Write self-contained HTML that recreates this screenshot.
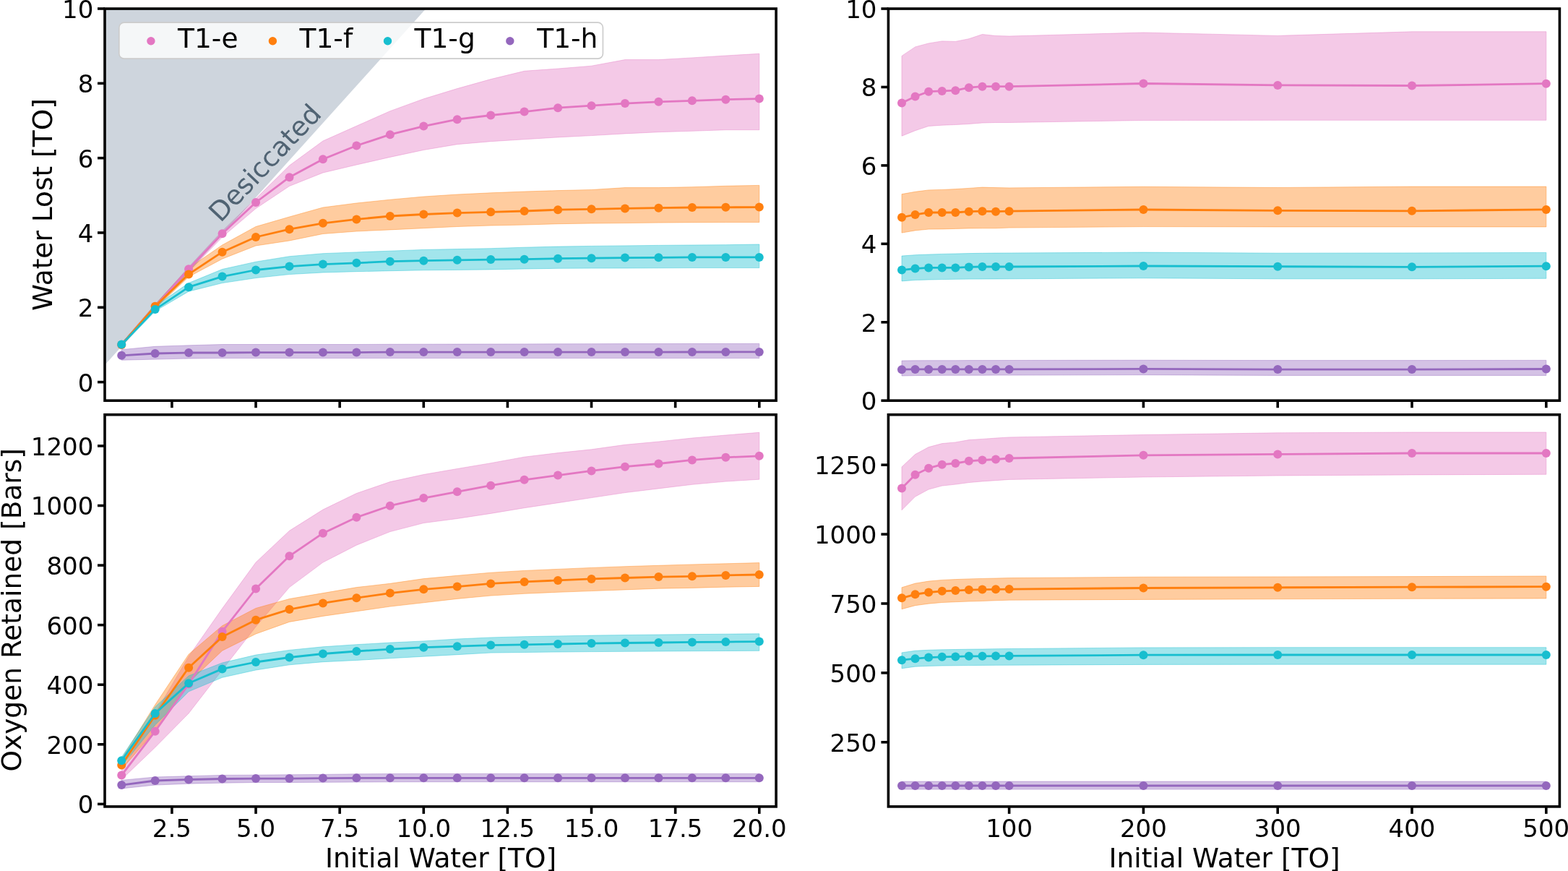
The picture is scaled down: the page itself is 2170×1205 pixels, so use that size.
<!DOCTYPE html>
<html><head><meta charset="utf-8"><title>Figure</title>
<style>html,body{margin:0;padding:0;background:#fff;overflow:hidden;} svg{display:block;}</style>
</head><body>
<svg width="2170" height="1205" viewBox="0 0 2170 1205" font-family="'DejaVu Sans', 'Liberation Sans', sans-serif">
<rect width="2170" height="1205" fill="#ffffff"/>
<defs>
<clipPath id="clipA"><rect x="145" y="12.05" width="929.1" height="542.15"/></clipPath>
<clipPath id="clipB"><rect x="1229.4" y="12.05" width="929" height="542.15"/></clipPath>
<clipPath id="clipC"><rect x="145" y="573.7" width="929.1" height="542.2"/></clipPath>
<clipPath id="clipD"><rect x="1229.4" y="573.7" width="929" height="542.2"/></clipPath>
</defs>
<g clip-path="url(#clipA)">
<path d="M168.22,475 L214.68,421.5 L261.12,369.5 L307.58,319.5 L354.02,274.8 L400.48,229 L446.93,195 L493.38,174.3 L539.83,153.7 L586.28,136.8 L632.73,122.6 L679.18,109.6 L725.62,98.3 L772.08,95 L818.53,91.2 L864.98,82.6 L911.43,82.6 L957.88,79.9 L1004.33,77 L1050.78,74.3 L1050.78,179.7 L1004.33,179.7 L957.88,181.3 L911.43,182.7 L864.98,184.9 L818.53,187.6 L772.08,189.9 L725.62,192.8 L679.18,195.7 L632.73,199.7 L586.28,207.5 L539.83,217.4 L493.38,228 L446.93,239 L400.48,257.5 L354.02,288.5 L307.58,328 L261.12,376 L214.68,427 L168.22,479 Z" fill="#e377c2" fill-opacity="0.4" stroke="#e377c2" stroke-opacity="0.4" stroke-width="1.0" stroke-linejoin="round"/>
<path d="M168.22,475 L214.68,421 L261.12,371 L307.58,339 L354.02,313.5 L400.48,300 L446.93,287 L493.38,281 L539.83,276.2 L586.28,272 L632.73,269 L679.18,266.8 L725.62,265 L772.08,263.6 L818.53,262.5 L864.98,259.6 L911.43,259.6 L957.88,258.7 L1004.33,257.3 L1050.78,256.4 L1050.78,307.5 L1004.33,307.5 L957.88,307.7 L911.43,308.1 L864.98,308.6 L818.53,309 L772.08,309.7 L725.62,311.1 L679.18,312 L632.73,313.5 L586.28,315.7 L539.83,317.9 L493.38,320 L446.93,323.5 L400.48,333 L354.02,340 L307.58,358.2 L261.12,383 L214.68,427 L168.22,479 Z" fill="#ff7f0e" fill-opacity="0.4" stroke="#ff7f0e" stroke-opacity="0.4" stroke-width="1.0" stroke-linejoin="round"/>
<path d="M168.22,474.5 L214.68,423.5 L261.12,391.6 L307.58,372.5 L354.02,362.2 L400.48,354.7 L446.93,350.7 L493.38,348.9 L539.83,347.2 L586.28,345.4 L632.73,344.6 L679.18,343.7 L725.62,342.2 L772.08,341.1 L818.53,340.4 L864.98,339.9 L911.43,339.4 L957.88,339 L1004.33,338.7 L1050.78,338 L1050.78,370.6 L1004.33,370.6 L957.88,370.6 L911.43,370.8 L864.98,371 L818.53,371.1 L772.08,371.3 L725.62,372 L679.18,372.9 L632.73,373.4 L586.28,373.8 L539.83,374.7 L493.38,375.7 L446.93,377 L400.48,379.6 L354.02,384.6 L307.58,391.6 L261.12,403.2 L214.68,430.5 L168.22,479 Z" fill="#17becf" fill-opacity="0.4" stroke="#17becf" stroke-opacity="0.4" stroke-width="1.0" stroke-linejoin="round"/>
<path d="M168.22,483.7 L214.68,479.3 L261.12,477.8 L307.58,476.5 L354.02,476.5 L400.48,476.5 L446.93,476.5 L493.38,476.5 L539.83,476.3 L586.28,476.2 L632.73,476.1 L679.18,476 L725.62,475.9 L772.08,475.8 L818.53,475.7 L864.98,475.6 L911.43,475.6 L957.88,475.5 L1004.33,475.5 L1050.78,475.4 L1050.78,495.6 L1004.33,495.6 L957.88,495.6 L911.43,495.6 L864.98,495.6 L818.53,495.6 L772.08,495.6 L725.62,495.6 L679.18,495.6 L632.73,495.6 L586.28,495.6 L539.83,495.6 L493.38,495.6 L446.93,495.6 L400.48,495.6 L354.02,495.6 L307.58,495.6 L261.12,496 L214.68,497.1 L168.22,498.2 Z" fill="#9467bd" fill-opacity="0.4" stroke="#9467bd" stroke-opacity="0.4" stroke-width="1.0" stroke-linejoin="round"/>
<path d="M145,505.09 L589.46,12.05 L145,12.05 Z" fill="#73879e" fill-opacity="0.35"/>
<path d="M168.22,476.9 L214.68,424 L261.12,372.3 L307.58,323.3 L354.02,280 L400.48,245.2 L446.93,220.3 L493.38,201.5 L539.83,186.2 L586.28,174.6 L632.73,165.2 L679.18,159.5 L725.62,154.6 L772.08,149.2 L818.53,146.2 L864.98,143.1 L911.43,140.8 L957.88,139.3 L1004.33,137.7 L1050.78,136.6" fill="none" stroke="#e377c2" stroke-width="2.8" stroke-linejoin="round" stroke-linecap="butt"/><circle cx="168.22" cy="476.9" r="6.0" fill="#e377c2"/><circle cx="214.68" cy="424" r="6.0" fill="#e377c2"/><circle cx="261.12" cy="372.3" r="6.0" fill="#e377c2"/><circle cx="307.58" cy="323.3" r="6.0" fill="#e377c2"/><circle cx="354.02" cy="280" r="6.0" fill="#e377c2"/><circle cx="400.48" cy="245.2" r="6.0" fill="#e377c2"/><circle cx="446.93" cy="220.3" r="6.0" fill="#e377c2"/><circle cx="493.38" cy="201.5" r="6.0" fill="#e377c2"/><circle cx="539.83" cy="186.2" r="6.0" fill="#e377c2"/><circle cx="586.28" cy="174.6" r="6.0" fill="#e377c2"/><circle cx="632.73" cy="165.2" r="6.0" fill="#e377c2"/><circle cx="679.18" cy="159.5" r="6.0" fill="#e377c2"/><circle cx="725.62" cy="154.6" r="6.0" fill="#e377c2"/><circle cx="772.08" cy="149.2" r="6.0" fill="#e377c2"/><circle cx="818.53" cy="146.2" r="6.0" fill="#e377c2"/><circle cx="864.98" cy="143.1" r="6.0" fill="#e377c2"/><circle cx="911.43" cy="140.8" r="6.0" fill="#e377c2"/><circle cx="957.88" cy="139.3" r="6.0" fill="#e377c2"/><circle cx="1004.33" cy="137.7" r="6.0" fill="#e377c2"/><circle cx="1050.78" cy="136.6" r="6.0" fill="#e377c2"/>
<path d="M168.22,476.9 L214.68,423.8 L261.12,379.4 L307.58,348.7 L354.02,328 L400.48,317.2 L446.93,308.8 L493.38,303.4 L539.83,299 L586.28,296.5 L632.73,294.6 L679.18,293.3 L725.62,292 L772.08,290.2 L818.53,289.3 L864.98,288.4 L911.43,287.7 L957.88,287 L1004.33,286.8 L1050.78,286.6" fill="none" stroke="#ff7f0e" stroke-width="2.8" stroke-linejoin="round" stroke-linecap="butt"/><circle cx="168.22" cy="476.9" r="6.0" fill="#ff7f0e"/><circle cx="214.68" cy="423.8" r="6.0" fill="#ff7f0e"/><circle cx="261.12" cy="379.4" r="6.0" fill="#ff7f0e"/><circle cx="307.58" cy="348.7" r="6.0" fill="#ff7f0e"/><circle cx="354.02" cy="328" r="6.0" fill="#ff7f0e"/><circle cx="400.48" cy="317.2" r="6.0" fill="#ff7f0e"/><circle cx="446.93" cy="308.8" r="6.0" fill="#ff7f0e"/><circle cx="493.38" cy="303.4" r="6.0" fill="#ff7f0e"/><circle cx="539.83" cy="299" r="6.0" fill="#ff7f0e"/><circle cx="586.28" cy="296.5" r="6.0" fill="#ff7f0e"/><circle cx="632.73" cy="294.6" r="6.0" fill="#ff7f0e"/><circle cx="679.18" cy="293.3" r="6.0" fill="#ff7f0e"/><circle cx="725.62" cy="292" r="6.0" fill="#ff7f0e"/><circle cx="772.08" cy="290.2" r="6.0" fill="#ff7f0e"/><circle cx="818.53" cy="289.3" r="6.0" fill="#ff7f0e"/><circle cx="864.98" cy="288.4" r="6.0" fill="#ff7f0e"/><circle cx="911.43" cy="287.7" r="6.0" fill="#ff7f0e"/><circle cx="957.88" cy="287" r="6.0" fill="#ff7f0e"/><circle cx="1004.33" cy="286.8" r="6.0" fill="#ff7f0e"/><circle cx="1050.78" cy="286.6" r="6.0" fill="#ff7f0e"/>
<path d="M168.22,476.6 L214.68,428.1 L261.12,397.2 L307.58,382.6 L354.02,373.5 L400.48,368.6 L446.93,365.6 L493.38,363.8 L539.83,361.7 L586.28,360.7 L632.73,359.8 L679.18,359.1 L725.62,358.7 L772.08,357.7 L818.53,357.2 L864.98,356.6 L911.43,356.3 L957.88,355.9 L1004.33,355.9 L1050.78,355.9" fill="none" stroke="#17becf" stroke-width="2.8" stroke-linejoin="round" stroke-linecap="butt"/><circle cx="168.22" cy="476.6" r="6.0" fill="#17becf"/><circle cx="214.68" cy="428.1" r="6.0" fill="#17becf"/><circle cx="261.12" cy="397.2" r="6.0" fill="#17becf"/><circle cx="307.58" cy="382.6" r="6.0" fill="#17becf"/><circle cx="354.02" cy="373.5" r="6.0" fill="#17becf"/><circle cx="400.48" cy="368.6" r="6.0" fill="#17becf"/><circle cx="446.93" cy="365.6" r="6.0" fill="#17becf"/><circle cx="493.38" cy="363.8" r="6.0" fill="#17becf"/><circle cx="539.83" cy="361.7" r="6.0" fill="#17becf"/><circle cx="586.28" cy="360.7" r="6.0" fill="#17becf"/><circle cx="632.73" cy="359.8" r="6.0" fill="#17becf"/><circle cx="679.18" cy="359.1" r="6.0" fill="#17becf"/><circle cx="725.62" cy="358.7" r="6.0" fill="#17becf"/><circle cx="772.08" cy="357.7" r="6.0" fill="#17becf"/><circle cx="818.53" cy="357.2" r="6.0" fill="#17becf"/><circle cx="864.98" cy="356.6" r="6.0" fill="#17becf"/><circle cx="911.43" cy="356.3" r="6.0" fill="#17becf"/><circle cx="957.88" cy="355.9" r="6.0" fill="#17becf"/><circle cx="1004.33" cy="355.9" r="6.0" fill="#17becf"/><circle cx="1050.78" cy="355.9" r="6.0" fill="#17becf"/>
<path d="M168.22,491.8 L214.68,489 L261.12,488 L307.58,488 L354.02,487.6 L400.48,487.6 L446.93,487.6 L493.38,487.6 L539.83,487.1 L586.28,487.1 L632.73,487.1 L679.18,487.1 L725.62,487.1 L772.08,487.1 L818.53,487.1 L864.98,487.1 L911.43,487.1 L957.88,487 L1004.33,487 L1050.78,486.9" fill="none" stroke="#9467bd" stroke-width="2.8" stroke-linejoin="round" stroke-linecap="butt"/><circle cx="168.22" cy="491.8" r="6.0" fill="#9467bd"/><circle cx="214.68" cy="489" r="6.0" fill="#9467bd"/><circle cx="261.12" cy="488" r="6.0" fill="#9467bd"/><circle cx="307.58" cy="488" r="6.0" fill="#9467bd"/><circle cx="354.02" cy="487.6" r="6.0" fill="#9467bd"/><circle cx="400.48" cy="487.6" r="6.0" fill="#9467bd"/><circle cx="446.93" cy="487.6" r="6.0" fill="#9467bd"/><circle cx="493.38" cy="487.6" r="6.0" fill="#9467bd"/><circle cx="539.83" cy="487.1" r="6.0" fill="#9467bd"/><circle cx="586.28" cy="487.1" r="6.0" fill="#9467bd"/><circle cx="632.73" cy="487.1" r="6.0" fill="#9467bd"/><circle cx="679.18" cy="487.1" r="6.0" fill="#9467bd"/><circle cx="725.62" cy="487.1" r="6.0" fill="#9467bd"/><circle cx="772.08" cy="487.1" r="6.0" fill="#9467bd"/><circle cx="818.53" cy="487.1" r="6.0" fill="#9467bd"/><circle cx="864.98" cy="487.1" r="6.0" fill="#9467bd"/><circle cx="911.43" cy="487.1" r="6.0" fill="#9467bd"/><circle cx="957.88" cy="487" r="6.0" fill="#9467bd"/><circle cx="1004.33" cy="487" r="6.0" fill="#9467bd"/><circle cx="1050.78" cy="486.9" r="6.0" fill="#9467bd"/>
</g>
<g clip-path="url(#clipC)">
<path d="M168.22,1067 L214.68,987 L261.12,908.2 L307.58,841.8 L354.02,778.1 L400.48,734.3 L446.93,705.1 L493.38,682.5 L539.83,666.6 L586.28,656.5 L632.73,648.5 L679.18,640.7 L725.62,632.2 L772.08,626.6 L818.53,621.8 L864.98,615.3 L911.43,611 L957.88,606 L1004.33,602 L1050.78,598.3 L1050.78,663.2 L1004.33,666.1 L957.88,670.3 L911.43,675.9 L864.98,681.6 L818.53,688.6 L772.08,695.7 L725.62,702.7 L679.18,710.4 L632.73,717.5 L586.28,723.6 L539.83,735.6 L493.38,754.2 L446.93,778.1 L400.48,812.6 L354.02,867 L307.58,926.8 L261.12,986.9 L214.68,1034 L168.22,1078.5 Z" fill="#e377c2" fill-opacity="0.4" stroke="#e377c2" stroke-opacity="0.4" stroke-width="1.0" stroke-linejoin="round"/>
<path d="M168.22,1050 L214.68,975 L261.12,905.2 L307.58,865.7 L354.02,841.5 L400.48,828.5 L446.93,820.6 L493.38,812.6 L539.83,807.3 L586.28,800.6 L632.73,796.3 L679.18,792.2 L725.62,789.4 L772.08,787.4 L818.53,785.4 L864.98,783.7 L911.43,782.3 L957.88,780.9 L1004.33,779.8 L1050.78,778.6 L1050.78,811.4 L1004.33,812.2 L957.88,813.4 L911.43,814.2 L864.98,815.9 L818.53,817.6 L772.08,819.3 L725.62,821.3 L679.18,824.1 L632.73,828.4 L586.28,833.8 L539.83,839.1 L493.38,845.8 L446.93,852.4 L400.48,860.4 L354.02,877 L307.58,900.2 L261.12,944.2 L214.68,1011 L168.22,1064.5 Z" fill="#ff7f0e" fill-opacity="0.4" stroke="#ff7f0e" stroke-opacity="0.4" stroke-width="1.0" stroke-linejoin="round"/>
<path d="M168.22,1047.5 L214.68,978 L261.12,935 L307.58,917 L354.02,906.1 L400.48,899.4 L446.93,894.8 L493.38,891.7 L539.83,889.1 L586.28,886.9 L632.73,884 L679.18,881.9 L725.62,880.7 L772.08,879.9 L818.53,879.1 L864.98,878.5 L911.43,878 L957.88,877.6 L1004.33,877.2 L1050.78,876.8 L1050.78,900.3 L1004.33,900.5 L957.88,900.7 L911.43,901 L864.98,901.3 L818.53,901.6 L772.08,902 L725.62,902.5 L679.18,903.1 L632.73,905.7 L586.28,908.2 L539.83,910.8 L493.38,913.5 L446.93,915.7 L400.48,919.8 L354.02,927 L307.58,937.3 L261.12,956.8 L214.68,1003 L168.22,1060 Z" fill="#17becf" fill-opacity="0.4" stroke="#17becf" stroke-opacity="0.4" stroke-width="1.0" stroke-linejoin="round"/>
<path d="M168.22,1079.4 L214.68,1075 L261.12,1073.7 L307.58,1072.4 L354.02,1072.2 L400.48,1071.8 L446.93,1071.4 L493.38,1070.8 L539.83,1070.6 L586.28,1070.4 L632.73,1070.4 L679.18,1070.4 L725.62,1070.4 L772.08,1070.4 L818.53,1070.4 L864.98,1070.4 L911.43,1070.4 L957.88,1070.4 L1004.33,1070.4 L1050.78,1070.4 L1050.78,1081.7 L1004.33,1081.7 L957.88,1081.7 L911.43,1081.7 L864.98,1081.7 L818.53,1081.7 L772.08,1081.7 L725.62,1081.7 L679.18,1081.7 L632.73,1081.7 L586.28,1081.7 L539.83,1081.8 L493.38,1082 L446.93,1082.3 L400.48,1082.5 L354.02,1082.5 L307.58,1083.2 L261.12,1084.2 L214.68,1086.1 L168.22,1090.9 Z" fill="#9467bd" fill-opacity="0.4" stroke="#9467bd" stroke-opacity="0.4" stroke-width="1.0" stroke-linejoin="round"/>
<path d="M168.22,1072.6 L214.68,1011.7 L261.12,946.4 L307.58,873.7 L354.02,814.5 L400.48,769.3 L446.93,737.7 L493.38,715.7 L539.83,699.7 L586.28,689.1 L632.73,680.3 L679.18,671.7 L725.62,663.8 L772.08,657.6 L818.53,651.4 L864.98,645.7 L911.43,641.5 L957.88,636.4 L1004.33,632.8 L1050.78,630.8" fill="none" stroke="#e377c2" stroke-width="2.8" stroke-linejoin="round" stroke-linecap="butt"/><circle cx="168.22" cy="1072.6" r="6.0" fill="#e377c2"/><circle cx="214.68" cy="1011.7" r="6.0" fill="#e377c2"/><circle cx="261.12" cy="946.4" r="6.0" fill="#e377c2"/><circle cx="307.58" cy="873.7" r="6.0" fill="#e377c2"/><circle cx="354.02" cy="814.5" r="6.0" fill="#e377c2"/><circle cx="400.48" cy="769.3" r="6.0" fill="#e377c2"/><circle cx="446.93" cy="737.7" r="6.0" fill="#e377c2"/><circle cx="493.38" cy="715.7" r="6.0" fill="#e377c2"/><circle cx="539.83" cy="699.7" r="6.0" fill="#e377c2"/><circle cx="586.28" cy="689.1" r="6.0" fill="#e377c2"/><circle cx="632.73" cy="680.3" r="6.0" fill="#e377c2"/><circle cx="679.18" cy="671.7" r="6.0" fill="#e377c2"/><circle cx="725.62" cy="663.8" r="6.0" fill="#e377c2"/><circle cx="772.08" cy="657.6" r="6.0" fill="#e377c2"/><circle cx="818.53" cy="651.4" r="6.0" fill="#e377c2"/><circle cx="864.98" cy="645.7" r="6.0" fill="#e377c2"/><circle cx="911.43" cy="641.5" r="6.0" fill="#e377c2"/><circle cx="957.88" cy="636.4" r="6.0" fill="#e377c2"/><circle cx="1004.33" cy="632.8" r="6.0" fill="#e377c2"/><circle cx="1050.78" cy="630.8" r="6.0" fill="#e377c2"/>
<path d="M168.22,1058.4 L214.68,989.7 L261.12,923.7 L307.58,881.1 L354.02,857.7 L400.48,843.1 L446.93,834.4 L493.38,827.2 L539.83,820.6 L586.28,815.3 L632.73,811.6 L679.18,807.4 L725.62,804.9 L772.08,802.9 L818.53,800.9 L864.98,799.5 L911.43,798.1 L957.88,797.3 L1004.33,795.9 L1050.78,795" fill="none" stroke="#ff7f0e" stroke-width="2.8" stroke-linejoin="round" stroke-linecap="butt"/><circle cx="168.22" cy="1058.4" r="6.0" fill="#ff7f0e"/><circle cx="214.68" cy="989.7" r="6.0" fill="#ff7f0e"/><circle cx="261.12" cy="923.7" r="6.0" fill="#ff7f0e"/><circle cx="307.58" cy="881.1" r="6.0" fill="#ff7f0e"/><circle cx="354.02" cy="857.7" r="6.0" fill="#ff7f0e"/><circle cx="400.48" cy="843.1" r="6.0" fill="#ff7f0e"/><circle cx="446.93" cy="834.4" r="6.0" fill="#ff7f0e"/><circle cx="493.38" cy="827.2" r="6.0" fill="#ff7f0e"/><circle cx="539.83" cy="820.6" r="6.0" fill="#ff7f0e"/><circle cx="586.28" cy="815.3" r="6.0" fill="#ff7f0e"/><circle cx="632.73" cy="811.6" r="6.0" fill="#ff7f0e"/><circle cx="679.18" cy="807.4" r="6.0" fill="#ff7f0e"/><circle cx="725.62" cy="804.9" r="6.0" fill="#ff7f0e"/><circle cx="772.08" cy="802.9" r="6.0" fill="#ff7f0e"/><circle cx="818.53" cy="800.9" r="6.0" fill="#ff7f0e"/><circle cx="864.98" cy="799.5" r="6.0" fill="#ff7f0e"/><circle cx="911.43" cy="798.1" r="6.0" fill="#ff7f0e"/><circle cx="957.88" cy="797.3" r="6.0" fill="#ff7f0e"/><circle cx="1004.33" cy="795.9" r="6.0" fill="#ff7f0e"/><circle cx="1050.78" cy="795" r="6.0" fill="#ff7f0e"/>
<path d="M168.22,1052.3 L214.68,986.9 L261.12,945.2 L307.58,925.4 L354.02,916 L400.48,909.5 L446.93,904.5 L493.38,901 L539.83,898.1 L586.28,895.7 L632.73,894.2 L679.18,892.6 L725.62,891.8 L772.08,891 L818.53,890.1 L864.98,889.5 L911.43,889 L957.88,888.4 L1004.33,888.1 L1050.78,887.6" fill="none" stroke="#17becf" stroke-width="2.8" stroke-linejoin="round" stroke-linecap="butt"/><circle cx="168.22" cy="1052.3" r="6.0" fill="#17becf"/><circle cx="214.68" cy="986.9" r="6.0" fill="#17becf"/><circle cx="261.12" cy="945.2" r="6.0" fill="#17becf"/><circle cx="307.58" cy="925.4" r="6.0" fill="#17becf"/><circle cx="354.02" cy="916" r="6.0" fill="#17becf"/><circle cx="400.48" cy="909.5" r="6.0" fill="#17becf"/><circle cx="446.93" cy="904.5" r="6.0" fill="#17becf"/><circle cx="493.38" cy="901" r="6.0" fill="#17becf"/><circle cx="539.83" cy="898.1" r="6.0" fill="#17becf"/><circle cx="586.28" cy="895.7" r="6.0" fill="#17becf"/><circle cx="632.73" cy="894.2" r="6.0" fill="#17becf"/><circle cx="679.18" cy="892.6" r="6.0" fill="#17becf"/><circle cx="725.62" cy="891.8" r="6.0" fill="#17becf"/><circle cx="772.08" cy="891" r="6.0" fill="#17becf"/><circle cx="818.53" cy="890.1" r="6.0" fill="#17becf"/><circle cx="864.98" cy="889.5" r="6.0" fill="#17becf"/><circle cx="911.43" cy="889" r="6.0" fill="#17becf"/><circle cx="957.88" cy="888.4" r="6.0" fill="#17becf"/><circle cx="1004.33" cy="888.1" r="6.0" fill="#17becf"/><circle cx="1050.78" cy="887.6" r="6.0" fill="#17becf"/>
<path d="M168.22,1086.1 L214.68,1080 L261.12,1078.5 L307.58,1077.5 L354.02,1077.1 L400.48,1077.1 L446.93,1076.6 L493.38,1076.3 L539.83,1076.3 L586.28,1076.3 L632.73,1076.3 L679.18,1076.3 L725.62,1076.3 L772.08,1076.3 L818.53,1076.3 L864.98,1076.3 L911.43,1076.3 L957.88,1076.3 L1004.33,1076.3 L1050.78,1076.3" fill="none" stroke="#9467bd" stroke-width="2.8" stroke-linejoin="round" stroke-linecap="butt"/><circle cx="168.22" cy="1086.1" r="6.0" fill="#9467bd"/><circle cx="214.68" cy="1080" r="6.0" fill="#9467bd"/><circle cx="261.12" cy="1078.5" r="6.0" fill="#9467bd"/><circle cx="307.58" cy="1077.5" r="6.0" fill="#9467bd"/><circle cx="354.02" cy="1077.1" r="6.0" fill="#9467bd"/><circle cx="400.48" cy="1077.1" r="6.0" fill="#9467bd"/><circle cx="446.93" cy="1076.6" r="6.0" fill="#9467bd"/><circle cx="493.38" cy="1076.3" r="6.0" fill="#9467bd"/><circle cx="539.83" cy="1076.3" r="6.0" fill="#9467bd"/><circle cx="586.28" cy="1076.3" r="6.0" fill="#9467bd"/><circle cx="632.73" cy="1076.3" r="6.0" fill="#9467bd"/><circle cx="679.18" cy="1076.3" r="6.0" fill="#9467bd"/><circle cx="725.62" cy="1076.3" r="6.0" fill="#9467bd"/><circle cx="772.08" cy="1076.3" r="6.0" fill="#9467bd"/><circle cx="818.53" cy="1076.3" r="6.0" fill="#9467bd"/><circle cx="864.98" cy="1076.3" r="6.0" fill="#9467bd"/><circle cx="911.43" cy="1076.3" r="6.0" fill="#9467bd"/><circle cx="957.88" cy="1076.3" r="6.0" fill="#9467bd"/><circle cx="1004.33" cy="1076.3" r="6.0" fill="#9467bd"/><circle cx="1050.78" cy="1076.3" r="6.0" fill="#9467bd"/>
</g>
<g clip-path="url(#clipB)">
<path d="M1247.98,77.4 L1266.56,64.9 L1285.14,59.9 L1303.72,56.9 L1322.3,57.4 L1340.88,53.7 L1359.46,47.5 L1378.04,49.5 L1396.62,50 L1582.42,45 L1768.22,49.4 L1954.02,43.8 L2139.82,43.8 L2139.82,166.3 L1954.02,166.3 L1768.22,166.3 L1582.42,166.5 L1396.62,169.5 L1378.04,169.5 L1359.46,170 L1340.88,171.5 L1322.3,172.5 L1303.72,173.2 L1285.14,174.5 L1266.56,180.7 L1247.98,188.2 Z" fill="#e377c2" fill-opacity="0.4" stroke="#e377c2" stroke-opacity="0.4" stroke-width="1.0" stroke-linejoin="round"/>
<path d="M1247.98,268.6 L1266.56,265.3 L1285.14,262.9 L1303.72,262.4 L1322.3,261.6 L1340.88,260.4 L1359.46,259.1 L1378.04,259.6 L1396.62,259.9 L1582.42,258.3 L1768.22,259.5 L1954.02,258.1 L2139.82,258.1 L2139.82,313.9 L1954.02,313.9 L1768.22,313.9 L1582.42,313.6 L1396.62,315.1 L1378.04,315.8 L1359.46,315.8 L1340.88,315.9 L1322.3,316.4 L1303.72,316.9 L1285.14,317.1 L1266.56,318.9 L1247.98,322.1 Z" fill="#ff7f0e" fill-opacity="0.4" stroke="#ff7f0e" stroke-opacity="0.4" stroke-width="1.0" stroke-linejoin="round"/>
<path d="M1247.98,354.1 L1266.56,352.7 L1285.14,352 L1303.72,351.4 L1322.3,351 L1340.88,350.6 L1359.46,350.3 L1378.04,350.1 L1396.62,350 L1582.42,349.1 L1768.22,350.2 L1954.02,349.9 L2139.82,349.4 L2139.82,385.3 L1954.02,385.8 L1768.22,385.8 L1582.42,384.8 L1396.62,385.8 L1378.04,385.9 L1359.46,386 L1340.88,386.1 L1322.3,386.3 L1303.72,386.6 L1285.14,387 L1266.56,387.5 L1247.98,388.9 Z" fill="#17becf" fill-opacity="0.4" stroke="#17becf" stroke-opacity="0.4" stroke-width="1.0" stroke-linejoin="round"/>
<path d="M1247.98,499 L1266.56,498.8 L1285.14,498.7 L1303.72,498.7 L1322.3,498.7 L1340.88,498.6 L1359.46,498.6 L1378.04,498.6 L1396.62,498.5 L1582.42,498.3 L1768.22,498.6 L1954.02,498.6 L2139.82,498.4 L2139.82,519.4 L1954.02,519.4 L1768.22,519.4 L1582.42,518.7 L1396.62,519.1 L1378.04,519.1 L1359.46,519.2 L1340.88,519.2 L1322.3,519.3 L1303.72,519.3 L1285.14,519.4 L1266.56,519.6 L1247.98,520 Z" fill="#9467bd" fill-opacity="0.4" stroke="#9467bd" stroke-opacity="0.4" stroke-width="1.0" stroke-linejoin="round"/>
<path d="M1247.98,142.6 L1266.56,133.6 L1285.14,126.7 L1303.72,125.9 L1322.3,125.2 L1340.88,121.2 L1359.46,119.7 L1378.04,119.7 L1396.62,119.7 L1582.42,115.5 L1768.22,117.9 L1954.02,118.5 L2139.82,115.7" fill="none" stroke="#e377c2" stroke-width="2.8" stroke-linejoin="round" stroke-linecap="butt"/><circle cx="1247.98" cy="142.6" r="6.0" fill="#e377c2"/><circle cx="1266.56" cy="133.6" r="6.0" fill="#e377c2"/><circle cx="1285.14" cy="126.7" r="6.0" fill="#e377c2"/><circle cx="1303.72" cy="125.9" r="6.0" fill="#e377c2"/><circle cx="1322.3" cy="125.2" r="6.0" fill="#e377c2"/><circle cx="1340.88" cy="121.2" r="6.0" fill="#e377c2"/><circle cx="1359.46" cy="119.7" r="6.0" fill="#e377c2"/><circle cx="1378.04" cy="119.7" r="6.0" fill="#e377c2"/><circle cx="1396.62" cy="119.7" r="6.0" fill="#e377c2"/><circle cx="1582.42" cy="115.5" r="6.0" fill="#e377c2"/><circle cx="1768.22" cy="117.9" r="6.0" fill="#e377c2"/><circle cx="1954.02" cy="118.5" r="6.0" fill="#e377c2"/><circle cx="2139.82" cy="115.7" r="6.0" fill="#e377c2"/>
<path d="M1247.98,300.7 L1266.56,297 L1285.14,294 L1303.72,294 L1322.3,294 L1340.88,292.7 L1359.46,292.2 L1378.04,292.7 L1396.62,292.2 L1582.42,290 L1768.22,291.3 L1954.02,291.8 L2139.82,289.9" fill="none" stroke="#ff7f0e" stroke-width="2.8" stroke-linejoin="round" stroke-linecap="butt"/><circle cx="1247.98" cy="300.7" r="6.0" fill="#ff7f0e"/><circle cx="1266.56" cy="297" r="6.0" fill="#ff7f0e"/><circle cx="1285.14" cy="294" r="6.0" fill="#ff7f0e"/><circle cx="1303.72" cy="294" r="6.0" fill="#ff7f0e"/><circle cx="1322.3" cy="294" r="6.0" fill="#ff7f0e"/><circle cx="1340.88" cy="292.7" r="6.0" fill="#ff7f0e"/><circle cx="1359.46" cy="292.2" r="6.0" fill="#ff7f0e"/><circle cx="1378.04" cy="292.7" r="6.0" fill="#ff7f0e"/><circle cx="1396.62" cy="292.2" r="6.0" fill="#ff7f0e"/><circle cx="1582.42" cy="290" r="6.0" fill="#ff7f0e"/><circle cx="1768.22" cy="291.3" r="6.0" fill="#ff7f0e"/><circle cx="1954.02" cy="291.8" r="6.0" fill="#ff7f0e"/><circle cx="2139.82" cy="289.9" r="6.0" fill="#ff7f0e"/>
<path d="M1247.98,373.6 L1266.56,371.5 L1285.14,370.4 L1303.72,370.4 L1322.3,370.4 L1340.88,369.4 L1359.46,369 L1378.04,369 L1396.62,369 L1582.42,368 L1768.22,368.7 L1954.02,369.3 L2139.82,368.2" fill="none" stroke="#17becf" stroke-width="2.8" stroke-linejoin="round" stroke-linecap="butt"/><circle cx="1247.98" cy="373.6" r="6.0" fill="#17becf"/><circle cx="1266.56" cy="371.5" r="6.0" fill="#17becf"/><circle cx="1285.14" cy="370.4" r="6.0" fill="#17becf"/><circle cx="1303.72" cy="370.4" r="6.0" fill="#17becf"/><circle cx="1322.3" cy="370.4" r="6.0" fill="#17becf"/><circle cx="1340.88" cy="369.4" r="6.0" fill="#17becf"/><circle cx="1359.46" cy="369" r="6.0" fill="#17becf"/><circle cx="1378.04" cy="369" r="6.0" fill="#17becf"/><circle cx="1396.62" cy="369" r="6.0" fill="#17becf"/><circle cx="1582.42" cy="368" r="6.0" fill="#17becf"/><circle cx="1768.22" cy="368.7" r="6.0" fill="#17becf"/><circle cx="1954.02" cy="369.3" r="6.0" fill="#17becf"/><circle cx="2139.82" cy="368.2" r="6.0" fill="#17becf"/>
<path d="M1247.98,511.2 L1266.56,510.9 L1285.14,510.9 L1303.72,510.9 L1322.3,510.9 L1340.88,510.9 L1359.46,510.9 L1378.04,510.9 L1396.62,510.9 L1582.42,510.4 L1768.22,511.1 L1954.02,511.1 L2139.82,510.5" fill="none" stroke="#9467bd" stroke-width="2.8" stroke-linejoin="round" stroke-linecap="butt"/><circle cx="1247.98" cy="511.2" r="6.0" fill="#9467bd"/><circle cx="1266.56" cy="510.9" r="6.0" fill="#9467bd"/><circle cx="1285.14" cy="510.9" r="6.0" fill="#9467bd"/><circle cx="1303.72" cy="510.9" r="6.0" fill="#9467bd"/><circle cx="1322.3" cy="510.9" r="6.0" fill="#9467bd"/><circle cx="1340.88" cy="510.9" r="6.0" fill="#9467bd"/><circle cx="1359.46" cy="510.9" r="6.0" fill="#9467bd"/><circle cx="1378.04" cy="510.9" r="6.0" fill="#9467bd"/><circle cx="1396.62" cy="510.9" r="6.0" fill="#9467bd"/><circle cx="1582.42" cy="510.4" r="6.0" fill="#9467bd"/><circle cx="1768.22" cy="511.1" r="6.0" fill="#9467bd"/><circle cx="1954.02" cy="511.1" r="6.0" fill="#9467bd"/><circle cx="2139.82" cy="510.5" r="6.0" fill="#9467bd"/>
</g>
<g clip-path="url(#clipD)">
<path d="M1247.98,646 L1266.56,628.6 L1285.14,618.6 L1303.72,613.6 L1322.3,611.9 L1340.88,608.6 L1359.46,607.4 L1378.04,606.1 L1396.62,604.9 L1582.42,601.5 L1768.22,598.8 L1954.02,598 L2139.82,598 L2139.82,656.3 L1954.02,656.9 L1768.22,658 L1582.42,660 L1396.62,663.4 L1378.04,664.7 L1359.46,665.9 L1340.88,667.6 L1322.3,670.1 L1303.72,672.1 L1285.14,677.1 L1266.56,687.1 L1247.98,705.7 Z" fill="#e377c2" fill-opacity="0.4" stroke="#e377c2" stroke-opacity="0.4" stroke-width="1.0" stroke-linejoin="round"/>
<path d="M1247.98,812.8 L1266.56,807.1 L1285.14,804.1 L1303.72,802.4 L1322.3,801.6 L1340.88,800.9 L1359.46,800.4 L1378.04,800 L1396.62,799.6 L1582.42,798.2 L1768.22,797.9 L1954.02,797.6 L2139.82,797 L2139.82,828 L1954.02,828.3 L1768.22,828.8 L1582.42,829.4 L1396.62,830.2 L1378.04,830.8 L1359.46,831.5 L1340.88,832 L1322.3,832.7 L1303.72,833.5 L1285.14,835.2 L1266.56,837.7 L1247.98,842.7 Z" fill="#ff7f0e" fill-opacity="0.4" stroke="#ff7f0e" stroke-opacity="0.4" stroke-width="1.0" stroke-linejoin="round"/>
<path d="M1247.98,902.9 L1266.56,900.3 L1285.14,899.3 L1303.72,898.8 L1322.3,898.5 L1340.88,898.2 L1359.46,898 L1378.04,897.7 L1396.62,897.5 L1582.42,895.9 L1768.22,895.7 L1954.02,895.7 L2139.82,895.7 L2139.82,919.2 L1954.02,919.2 L1768.22,919.2 L1582.42,919.4 L1396.62,920.2 L1378.04,920.3 L1359.46,920.4 L1340.88,920.6 L1322.3,920.8 L1303.72,921 L1285.14,921.4 L1266.56,922.2 L1247.98,924.8 Z" fill="#17becf" fill-opacity="0.4" stroke="#17becf" stroke-opacity="0.4" stroke-width="1.0" stroke-linejoin="round"/>
<path d="M1247.98,1081.1 L1266.56,1081.1 L1285.14,1081.1 L1303.72,1081.1 L1322.3,1081.1 L1340.88,1081.1 L1359.46,1081.1 L1378.04,1081.1 L1396.62,1081.1 L1582.42,1081.1 L1768.22,1081.1 L1954.02,1081.1 L2139.82,1081.1 L2139.82,1092 L1954.02,1092 L1768.22,1092 L1582.42,1092 L1396.62,1092 L1378.04,1092 L1359.46,1092 L1340.88,1092 L1322.3,1092 L1303.72,1092 L1285.14,1092 L1266.56,1092 L1247.98,1092 Z" fill="#9467bd" fill-opacity="0.4" stroke="#9467bd" stroke-opacity="0.4" stroke-width="1.0" stroke-linejoin="round"/>
<path d="M1247.98,675.4 L1266.56,656.7 L1285.14,647.7 L1303.72,642.7 L1322.3,641 L1340.88,637.8 L1359.46,636.5 L1378.04,635.5 L1396.62,634 L1582.42,629.8 L1768.22,628.4 L1954.02,627 L2139.82,627" fill="none" stroke="#e377c2" stroke-width="2.8" stroke-linejoin="round" stroke-linecap="butt"/><circle cx="1247.98" cy="675.4" r="6.0" fill="#e377c2"/><circle cx="1266.56" cy="656.7" r="6.0" fill="#e377c2"/><circle cx="1285.14" cy="647.7" r="6.0" fill="#e377c2"/><circle cx="1303.72" cy="642.7" r="6.0" fill="#e377c2"/><circle cx="1322.3" cy="641" r="6.0" fill="#e377c2"/><circle cx="1340.88" cy="637.8" r="6.0" fill="#e377c2"/><circle cx="1359.46" cy="636.5" r="6.0" fill="#e377c2"/><circle cx="1378.04" cy="635.5" r="6.0" fill="#e377c2"/><circle cx="1396.62" cy="634" r="6.0" fill="#e377c2"/><circle cx="1582.42" cy="629.8" r="6.0" fill="#e377c2"/><circle cx="1768.22" cy="628.4" r="6.0" fill="#e377c2"/><circle cx="1954.02" cy="627" r="6.0" fill="#e377c2"/><circle cx="2139.82" cy="627" r="6.0" fill="#e377c2"/>
<path d="M1247.98,827.3 L1266.56,822.3 L1285.14,819.5 L1303.72,817.8 L1322.3,817.1 L1340.88,816.1 L1359.46,815.6 L1378.04,815.3 L1396.62,815.1 L1582.42,813.5 L1768.22,812.8 L1954.02,812.2 L2139.82,811.7" fill="none" stroke="#ff7f0e" stroke-width="2.8" stroke-linejoin="round" stroke-linecap="butt"/><circle cx="1247.98" cy="827.3" r="6.0" fill="#ff7f0e"/><circle cx="1266.56" cy="822.3" r="6.0" fill="#ff7f0e"/><circle cx="1285.14" cy="819.5" r="6.0" fill="#ff7f0e"/><circle cx="1303.72" cy="817.8" r="6.0" fill="#ff7f0e"/><circle cx="1322.3" cy="817.1" r="6.0" fill="#ff7f0e"/><circle cx="1340.88" cy="816.1" r="6.0" fill="#ff7f0e"/><circle cx="1359.46" cy="815.6" r="6.0" fill="#ff7f0e"/><circle cx="1378.04" cy="815.3" r="6.0" fill="#ff7f0e"/><circle cx="1396.62" cy="815.1" r="6.0" fill="#ff7f0e"/><circle cx="1582.42" cy="813.5" r="6.0" fill="#ff7f0e"/><circle cx="1768.22" cy="812.8" r="6.0" fill="#ff7f0e"/><circle cx="1954.02" cy="812.2" r="6.0" fill="#ff7f0e"/><circle cx="2139.82" cy="811.7" r="6.0" fill="#ff7f0e"/>
<path d="M1247.98,913.2 L1266.56,911.2 L1285.14,909.6 L1303.72,908.8 L1322.3,908.4 L1340.88,907.8 L1359.46,907.8 L1378.04,907.6 L1396.62,907.4 L1582.42,906.2 L1768.22,906 L1954.02,906 L2139.82,906" fill="none" stroke="#17becf" stroke-width="2.8" stroke-linejoin="round" stroke-linecap="butt"/><circle cx="1247.98" cy="913.2" r="6.0" fill="#17becf"/><circle cx="1266.56" cy="911.2" r="6.0" fill="#17becf"/><circle cx="1285.14" cy="909.6" r="6.0" fill="#17becf"/><circle cx="1303.72" cy="908.8" r="6.0" fill="#17becf"/><circle cx="1322.3" cy="908.4" r="6.0" fill="#17becf"/><circle cx="1340.88" cy="907.8" r="6.0" fill="#17becf"/><circle cx="1359.46" cy="907.8" r="6.0" fill="#17becf"/><circle cx="1378.04" cy="907.6" r="6.0" fill="#17becf"/><circle cx="1396.62" cy="907.4" r="6.0" fill="#17becf"/><circle cx="1582.42" cy="906.2" r="6.0" fill="#17becf"/><circle cx="1768.22" cy="906" r="6.0" fill="#17becf"/><circle cx="1954.02" cy="906" r="6.0" fill="#17becf"/><circle cx="2139.82" cy="906" r="6.0" fill="#17becf"/>
<path d="M1247.98,1087 L1266.56,1087 L1285.14,1087 L1303.72,1087 L1322.3,1087 L1340.88,1087 L1359.46,1087 L1378.04,1087 L1396.62,1087 L1582.42,1087 L1768.22,1087 L1954.02,1087 L2139.82,1087" fill="none" stroke="#9467bd" stroke-width="2.8" stroke-linejoin="round" stroke-linecap="butt"/><circle cx="1247.98" cy="1087" r="6.0" fill="#9467bd"/><circle cx="1266.56" cy="1087" r="6.0" fill="#9467bd"/><circle cx="1285.14" cy="1087" r="6.0" fill="#9467bd"/><circle cx="1303.72" cy="1087" r="6.0" fill="#9467bd"/><circle cx="1322.3" cy="1087" r="6.0" fill="#9467bd"/><circle cx="1340.88" cy="1087" r="6.0" fill="#9467bd"/><circle cx="1359.46" cy="1087" r="6.0" fill="#9467bd"/><circle cx="1378.04" cy="1087" r="6.0" fill="#9467bd"/><circle cx="1396.62" cy="1087" r="6.0" fill="#9467bd"/><circle cx="1582.42" cy="1087" r="6.0" fill="#9467bd"/><circle cx="1768.22" cy="1087" r="6.0" fill="#9467bd"/><circle cx="1954.02" cy="1087" r="6.0" fill="#9467bd"/><circle cx="2139.82" cy="1087" r="6.0" fill="#9467bd"/>
</g>
<text x="0" y="0" transform="translate(305.2,308.9) rotate(-46.6)" font-size="37.2" fill="#506373">Desiccated</text>
<rect x="145" y="12.05" width="929.1" height="542.15" fill="none" stroke="#000" stroke-width="3.6" stroke-linejoin="miter"/>
<rect x="1229.4" y="12.05" width="929" height="542.15" fill="none" stroke="#000" stroke-width="3.6" stroke-linejoin="miter"/>
<rect x="145" y="573.7" width="929.1" height="542.2" fill="none" stroke="#000" stroke-width="3.6" stroke-linejoin="miter"/>
<rect x="1229.4" y="573.7" width="929" height="542.2" fill="none" stroke="#000" stroke-width="3.6" stroke-linejoin="miter"/>
<line x1="135" y1="528.6" x2="145" y2="528.6" stroke="#000" stroke-width="3.6"/><text x="129.3" y="541.5" font-size="34.0" text-anchor="end">0</text><line x1="135" y1="425.28" x2="145" y2="425.28" stroke="#000" stroke-width="3.6"/><text x="129.3" y="438.18" font-size="34.0" text-anchor="end">2</text><line x1="135" y1="321.96" x2="145" y2="321.96" stroke="#000" stroke-width="3.6"/><text x="129.3" y="334.86" font-size="34.0" text-anchor="end">4</text><line x1="135" y1="218.64" x2="145" y2="218.64" stroke="#000" stroke-width="3.6"/><text x="129.3" y="231.54" font-size="34.0" text-anchor="end">6</text><line x1="135" y1="115.32" x2="145" y2="115.32" stroke="#000" stroke-width="3.6"/><text x="129.3" y="128.22" font-size="34.0" text-anchor="end">8</text><line x1="135" y1="12" x2="145" y2="12" stroke="#000" stroke-width="3.6"/><text x="129.3" y="24.9" font-size="34.0" text-anchor="end">10</text>
<line x1="135" y1="1112.4" x2="145" y2="1112.4" stroke="#000" stroke-width="3.6"/><text x="129.3" y="1125.3" font-size="34.0" text-anchor="end">0</text><line x1="135" y1="1029.82" x2="145" y2="1029.82" stroke="#000" stroke-width="3.6"/><text x="129.3" y="1042.72" font-size="34.0" text-anchor="end">200</text><line x1="135" y1="947.24" x2="145" y2="947.24" stroke="#000" stroke-width="3.6"/><text x="129.3" y="960.14" font-size="34.0" text-anchor="end">400</text><line x1="135" y1="864.66" x2="145" y2="864.66" stroke="#000" stroke-width="3.6"/><text x="129.3" y="877.56" font-size="34.0" text-anchor="end">600</text><line x1="135" y1="782.08" x2="145" y2="782.08" stroke="#000" stroke-width="3.6"/><text x="129.3" y="794.98" font-size="34.0" text-anchor="end">800</text><line x1="135" y1="699.5" x2="145" y2="699.5" stroke="#000" stroke-width="3.6"/><text x="129.3" y="712.4" font-size="34.0" text-anchor="end">1000</text><line x1="135" y1="616.92" x2="145" y2="616.92" stroke="#000" stroke-width="3.6"/><text x="129.3" y="629.82" font-size="34.0" text-anchor="end">1200</text>
<line x1="1219.4" y1="554.2" x2="1229.4" y2="554.2" stroke="#000" stroke-width="3.6"/><text x="1213.5" y="567.1" font-size="34.0" text-anchor="end">0</text><line x1="1219.4" y1="445.77" x2="1229.4" y2="445.77" stroke="#000" stroke-width="3.6"/><text x="1213.5" y="458.67" font-size="34.0" text-anchor="end">2</text><line x1="1219.4" y1="337.34" x2="1229.4" y2="337.34" stroke="#000" stroke-width="3.6"/><text x="1213.5" y="350.24" font-size="34.0" text-anchor="end">4</text><line x1="1219.4" y1="228.91" x2="1229.4" y2="228.91" stroke="#000" stroke-width="3.6"/><text x="1213.5" y="241.81" font-size="34.0" text-anchor="end">6</text><line x1="1219.4" y1="120.48" x2="1229.4" y2="120.48" stroke="#000" stroke-width="3.6"/><text x="1213.5" y="133.38" font-size="34.0" text-anchor="end">8</text><line x1="1219.4" y1="12.05" x2="1229.4" y2="12.05" stroke="#000" stroke-width="3.6"/><text x="1213.5" y="24.95" font-size="34.0" text-anchor="end">10</text>
<line x1="1219.4" y1="1026.8" x2="1229.4" y2="1026.8" stroke="#000" stroke-width="3.6"/><text x="1213.5" y="1039.7" font-size="34.0" text-anchor="end">250</text><line x1="1219.4" y1="930.9" x2="1229.4" y2="930.9" stroke="#000" stroke-width="3.6"/><text x="1213.5" y="943.8" font-size="34.0" text-anchor="end">500</text><line x1="1219.4" y1="835" x2="1229.4" y2="835" stroke="#000" stroke-width="3.6"/><text x="1213.5" y="847.9" font-size="34.0" text-anchor="end">750</text><line x1="1219.4" y1="739.1" x2="1229.4" y2="739.1" stroke="#000" stroke-width="3.6"/><text x="1213.5" y="752" font-size="34.0" text-anchor="end">1000</text><line x1="1219.4" y1="643.2" x2="1229.4" y2="643.2" stroke="#000" stroke-width="3.6"/><text x="1213.5" y="656.1" font-size="34.0" text-anchor="end">1250</text>
<line x1="237.9" y1="554.2" x2="237.9" y2="564.2" stroke="#000" stroke-width="3.6"/><line x1="354.02" y1="554.2" x2="354.02" y2="564.2" stroke="#000" stroke-width="3.6"/><line x1="470.15" y1="554.2" x2="470.15" y2="564.2" stroke="#000" stroke-width="3.6"/><line x1="586.28" y1="554.2" x2="586.28" y2="564.2" stroke="#000" stroke-width="3.6"/><line x1="702.4" y1="554.2" x2="702.4" y2="564.2" stroke="#000" stroke-width="3.6"/><line x1="818.53" y1="554.2" x2="818.53" y2="564.2" stroke="#000" stroke-width="3.6"/><line x1="934.65" y1="554.2" x2="934.65" y2="564.2" stroke="#000" stroke-width="3.6"/><line x1="1050.78" y1="554.2" x2="1050.78" y2="564.2" stroke="#000" stroke-width="3.6"/>
<line x1="237.9" y1="1115.9" x2="237.9" y2="1125.9" stroke="#000" stroke-width="3.6"/><text x="237.9" y="1157.7" font-size="34.0" text-anchor="middle">2.5</text><line x1="354.02" y1="1115.9" x2="354.02" y2="1125.9" stroke="#000" stroke-width="3.6"/><text x="354.02" y="1157.7" font-size="34.0" text-anchor="middle">5.0</text><line x1="470.15" y1="1115.9" x2="470.15" y2="1125.9" stroke="#000" stroke-width="3.6"/><text x="470.15" y="1157.7" font-size="34.0" text-anchor="middle">7.5</text><line x1="586.28" y1="1115.9" x2="586.28" y2="1125.9" stroke="#000" stroke-width="3.6"/><text x="586.28" y="1157.7" font-size="34.0" text-anchor="middle">10.0</text><line x1="702.4" y1="1115.9" x2="702.4" y2="1125.9" stroke="#000" stroke-width="3.6"/><text x="702.4" y="1157.7" font-size="34.0" text-anchor="middle">12.5</text><line x1="818.53" y1="1115.9" x2="818.53" y2="1125.9" stroke="#000" stroke-width="3.6"/><text x="818.53" y="1157.7" font-size="34.0" text-anchor="middle">15.0</text><line x1="934.65" y1="1115.9" x2="934.65" y2="1125.9" stroke="#000" stroke-width="3.6"/><text x="934.65" y="1157.7" font-size="34.0" text-anchor="middle">17.5</text><line x1="1050.78" y1="1115.9" x2="1050.78" y2="1125.9" stroke="#000" stroke-width="3.6"/><text x="1050.78" y="1157.7" font-size="34.0" text-anchor="middle">20.0</text>
<line x1="1396.62" y1="554.2" x2="1396.62" y2="564.2" stroke="#000" stroke-width="3.6"/><line x1="1582.42" y1="554.2" x2="1582.42" y2="564.2" stroke="#000" stroke-width="3.6"/><line x1="1768.22" y1="554.2" x2="1768.22" y2="564.2" stroke="#000" stroke-width="3.6"/><line x1="1954.02" y1="554.2" x2="1954.02" y2="564.2" stroke="#000" stroke-width="3.6"/><line x1="2139.82" y1="554.2" x2="2139.82" y2="564.2" stroke="#000" stroke-width="3.6"/>
<line x1="1396.62" y1="1115.9" x2="1396.62" y2="1125.9" stroke="#000" stroke-width="3.6"/><text x="1396.62" y="1157.7" font-size="34.0" text-anchor="middle">100</text><line x1="1582.42" y1="1115.9" x2="1582.42" y2="1125.9" stroke="#000" stroke-width="3.6"/><text x="1582.42" y="1157.7" font-size="34.0" text-anchor="middle">200</text><line x1="1768.22" y1="1115.9" x2="1768.22" y2="1125.9" stroke="#000" stroke-width="3.6"/><text x="1768.22" y="1157.7" font-size="34.0" text-anchor="middle">300</text><line x1="1954.02" y1="1115.9" x2="1954.02" y2="1125.9" stroke="#000" stroke-width="3.6"/><text x="1954.02" y="1157.7" font-size="34.0" text-anchor="middle">400</text><line x1="2139.82" y1="1115.9" x2="2139.82" y2="1125.9" stroke="#000" stroke-width="3.6"/><text x="2139.82" y="1157.7" font-size="34.0" text-anchor="middle">500</text>
<text x="610.1" y="1200.1" font-size="37.5" text-anchor="middle">Initial Water [TO]</text>
<text x="1694.5" y="1200.1" font-size="37.5" text-anchor="middle">Initial Water [TO]</text>
<text transform="translate(71.5,283.1) rotate(-90)" font-size="37.5" text-anchor="middle">Water Lost [TO]</text>
<text transform="translate(29.0,843.8) rotate(-90)" font-size="37.5" text-anchor="middle">Oxygen Retained [Bars]</text>
<rect x="164.8" y="31.2" width="669.6" height="50" rx="7" ry="7" fill="#ffffff" fill-opacity="0.8" stroke="#cccccc" stroke-width="1.67"/>
<circle cx="208.9" cy="56.8" r="5.7" fill="#e377c2"/>
<text x="246.1" y="66.4" font-size="37.5">T1-e</text>
<circle cx="377.4" cy="56.8" r="5.7" fill="#ff7f0e"/>
<text x="414.6" y="66.4" font-size="37.5">T1-f</text>
<circle cx="536.5" cy="56.8" r="5.7" fill="#17becf"/>
<text x="573.6" y="66.4" font-size="37.5">T1-g</text>
<circle cx="705.8" cy="56.8" r="5.7" fill="#9467bd"/>
<text x="743.3" y="66.4" font-size="37.5">T1-h</text>
</svg>
</body></html>
